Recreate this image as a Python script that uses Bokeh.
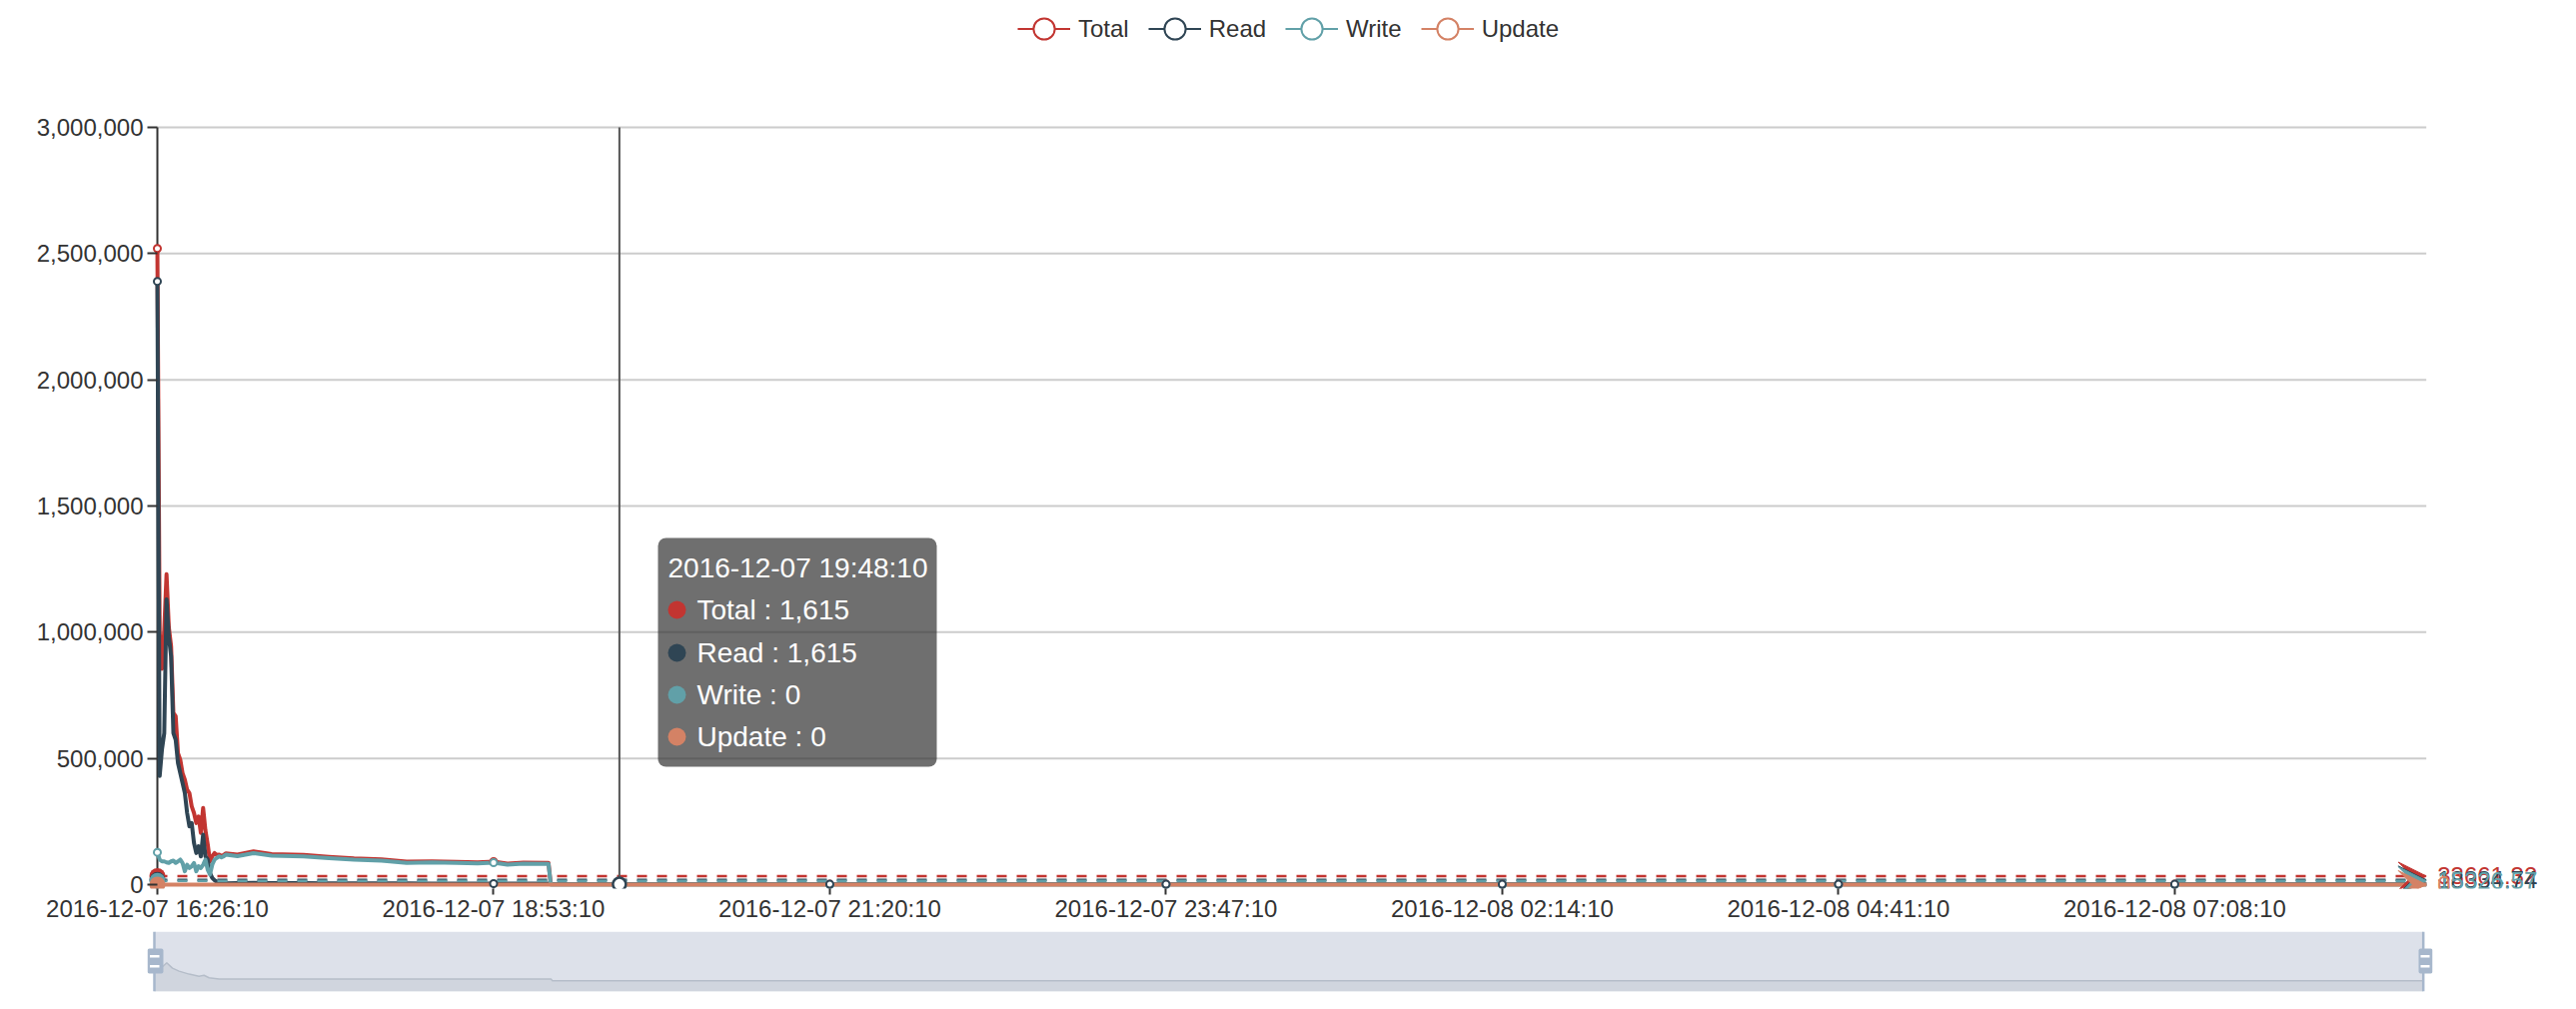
import numpy as np
import pandas as pd
from bokeh.plotting import figure
from bokeh.layouts import column
from bokeh.models import (FixedTicker, DatetimeTickFormatter, NumeralTickFormatter,
                          Legend, LegendItem, Label, Arrow, VeeHead)
from bokeh.core.properties import value
from bokeh.embed import file_html
from bokeh.resources import INLINE

FONT = "Liberation Sans"
START = pd.Timestamp("2016-12-07 16:26:10")

series_names = ["Total", "Read", "Write", "Update"]
series_colors = ["#c23531", "#2f4554", "#61a0a8", "#d48265"]

# minutes after 16:26:10 (one sample per minute, thinned out where flat)
minutes = list(range(31)) + [35, 42, 50, 64, 75, 86, 98, 109, 120, 131, 140, 147, 153,
                             160, 171, 172, 202, 294, 441, 588, 735, 882, 992]

# values in thousands
total_k = [2520, 1000, 855, 1010, 1230, 1020, 944, 680, 667, 521, 495, 442, 416, 376, 363,
           310, 284, 244, 270, 205, 304, 215, 160, 92, 112, 125, 117, 119, 113, 117, 124,
           119, 132, 121, 118, 110, 104, 100, 91, 92, 90, 88, 91, 83, 87, 86, 3,
           1.615, 1.6, 1.5, 1.7, 1.6, 1.5, 1.6]
read_k = [2390, 430, 535, 600, 1130, 983, 904, 600, 574, 482, 442, 403, 363, 284, 231,
          244, 165, 125, 152, 112, 198, 112, 99, 46, 26, 17, 11, 7, 5, 5, 5,
          6, 7, 6, 6, 5, 5, 5, 5, 4, 4, 4, 4, 4, 4, 4, 3,
          1.615, 1.6, 1.5, 1.7, 1.6, 1.5, 1.6]
write_k = [128, 99, 92, 92, 88, 86, 92, 95, 86, 92, 99, 86, 53, 79, 66, 73, 86, 53, 73, 66,
           79, 99, 59, 40, 79, 99, 106, 112, 108, 112, 119,
           113, 125, 115, 112, 105, 99, 95, 86, 88, 86, 84, 87, 79, 83, 82, 0,
           0, 0, 0, 0, 0, 0, 0]
update_k = [0, 0, 0, 0, 0, 0, 0, 0, 0, 0, 0, 0, 0, 0, 0, 0, 0, 0, 0, 0, 0, 0, 0, 0, 0, 0, 0,
            0, 0, 0, 0, 0, 0, 0, 0, 0, 0, 0, 0, 0, 0, 0, 0, 0, 0, 0, 0, 0, 0, 0, 0, 0, 0, 0]

avg_labels = ["33661.32", "18334.74", "15326.57", "0"]

tick_minutes = [0, 147, 294, 441, 588, 735, 882]
hover_minute = 202
last_minute = 992
y_ticks = [0, 500000, 1000000, 1500000, 2000000, 2500000, 3000000]

# data zoom shadow (minutes, fraction of slider height)
shadow_min = [0, 3.8, 5.4, 7.9, 10.8, 15.2, 19.5, 21.7, 23.9, 28.3, 173.4, 174, 992]
shadow_lvl = [0.40, 0.42, 0.48, 0.39, 0.34, 0.29, 0.255, 0.27, 0.23, 0.21, 0.21, 0.18, 0.18]

series_vals = [np.array(v) * 1000 for v in (total_k, read_k, write_k, update_k)]


def ms(ts):
    return ts.value / 1e6


def at_min(m):
    return ms(START + pd.Timedelta(minutes=m))


PX_PER_MIN = 2.289


def px_x(X):
    return at_min((X - 159) / PX_PER_MIN)


def px_y(Y):
    return (885 - Y) / 758 * 3000000


xs = [at_min(m) for m in minutes]
x0, x1 = at_min(0), at_min(last_minute)
y_top = y_ticks[-1]

# frame reaches up to the legend, right to the mark line labels and a little below zero
p = figure(frame_width=2401, frame_height=881, x_axis_type="datetime",
           x_range=(px_x(149), px_x(2550)), y_range=(px_y(889), px_y(8)),
           min_border_left=141, min_border_right=20, min_border_top=8, min_border_bottom=40,
           output_backend="svg", toolbar_location=None)
p.outline_line_color = None
p.grid.grid_line_color = None

p.yaxis.ticker = FixedTicker(ticks=y_ticks)
p.yaxis.formatter = NumeralTickFormatter(format="0,0")
p.yaxis.axis_line_color = None
p.yaxis.major_tick_in = 10
p.yaxis.major_tick_out = 0
p.yaxis.major_label_standoff = 4

p.xaxis.ticker = FixedTicker(ticks=[at_min(m) for m in tick_minutes])
fmt = "%Y-%m-%d %H:%M:%S"
p.xaxis.formatter = DatetimeTickFormatter(seconds=fmt, minsec=fmt, minutes=fmt, hourmin=fmt,
                                          hours=fmt, days=fmt, months=fmt, years=fmt)
p.xaxis.axis_line_color = None
p.xaxis.major_tick_in = 0
p.xaxis.major_tick_out = 6
p.xaxis.major_label_standoff = 0

for ax in (p.xaxis, p.yaxis):
    ax.major_tick_line_color = "#333333"
    ax.major_tick_line_width = 2
    ax.minor_tick_line_color = None
    ax.major_label_text_font = FONT
    ax.major_label_text_font_size = "24px"
    ax.major_label_text_color = "#333333"

# grid lines and axis lines
p.segment(x0=[x0] * len(y_ticks), x1=[x1] * len(y_ticks), y0=y_ticks, y1=y_ticks,
          line_color="#cccccc", line_width=2)
p.segment(x0=[x0, x0], x1=[x1, x0], y0=[0, 0], y1=[0, y_top],
          line_color="#333333", line_width=2)
p.segment(x0=[at_min(m) for m in tick_minutes], x1=[at_min(m) for m in tick_minutes],
          y0=[0] * len(tick_minutes), y1=[px_y(889)] * len(tick_minutes),
          line_color="#333333", line_width=2)

# series lines (Update goes on top of the mark lines)
for vals, c in zip(series_vals[:3], series_colors[:3]):
    p.line(xs, vals, line_color=c, line_width=4, line_join="round")

# average mark lines
for lab, c in zip(avg_labels, series_colors):
    avg = float(lab)
    p.line([x0, x1], [avg, avg], line_color=c, line_width=2.5, line_dash="10 10")

p.line(xs, series_vals[3], line_color=series_colors[3], line_width=4, line_join="round")

for lab, c in zip(avg_labels, series_colors):
    avg = float(lab)
    p.scatter([x0], [avg], size=16, fill_color=c, line_color=None)
    p.add_layout(Arrow(end=VeeHead(size=28, fill_color=c, line_color=c),
                       x_start=at_min(last_minute - 10), y_start=avg,
                       x_end=x1, y_end=avg, line_alpha=0))
    p.add_layout(Label(x=x1, y=avg, x_offset=11, text=lab,
                       text_baseline="middle", text_font=FONT, text_font_size="24px",
                       text_color=c))

# symbols shown at label interval (Read drawn last so its rings show along zero)
mark_idx = [minutes.index(m) for m in tick_minutes]
for k in (0, 2, 1):
    p.scatter([xs[i] for i in mark_idx], [series_vals[k][i] for i in mark_idx], size=7,
              fill_color="white", line_color=series_colors[k], line_width=2)

hi = minutes.index(hover_minute)
p.segment(x0=[xs[hi]], x1=[xs[hi]], y0=[0], y1=[y_top], line_color="#555555", line_width=2)
p.scatter([xs[hi]], [series_vals[1][hi]], size=13, fill_color="white",
          line_color=series_colors[1], line_width=2.5)

# tooltip
p.quad(left=[px_x(660)], right=[px_x(939)], top=[px_y(538)], bottom=[px_y(767)],
       fill_color="#323232", fill_alpha=0.7, line_color=None, border_radius=8)
row_y = [px_y(610), px_y(653), px_y(695), px_y(737)]
p.scatter([px_x(679)] * 4, row_y, size=18, fill_color=series_colors, line_color=None)
tip_title = (START + pd.Timedelta(minutes=hover_minute)).strftime("%Y-%m-%d %H:%M:%S")
tip_rows = [f"{n} : {int(round(v[hi])):,}" for n, v in zip(series_names, series_vals)]
p.text([px_x(670)] + [px_x(699)] * 4, [px_y(568)] + row_y, text=[tip_title] + tip_rows,
       text_color="white", text_font=value(FONT), text_font_size="28px",
       text_baseline="middle", text_align="left")

# legend (its renderers hold one point far below the visible range)
items = []
for n, c in zip(series_names, series_colors):
    lr = p.line([x0, x1], [-1e7, -1e7], line_color=c, line_width=2)
    sr = p.scatter([x0], [-1e7], size=22, fill_color="white", line_color=c, line_width=2)
    items.append(LegendItem(label=n, renderers=[lr, sr]))
legend = Legend(items=items, orientation="horizontal", location=(871, 834),
                glyph_width=53, glyph_height=53, label_standoff=8, spacing=19,
                padding=0, margin=0, border_line_color=None, background_fill_alpha=0,
                label_text_font=FONT, label_text_font_size="24px",
                label_text_color="#333333")
p.add_layout(legend)

# data zoom slider


def sx(X):
    return (X - 162) / PX_PER_MIN


def sy(Y):
    return (992 - Y) / 60


s = figure(frame_width=2287, frame_height=60, x_range=(sx(155), sx(2442)), y_range=(0, 1),
           min_border_left=147, min_border_right=128, min_border_top=3, min_border_bottom=2,
           x_axis_location=None, y_axis_location=None,
           output_backend="svg", toolbar_location=None)
s.outline_line_color = None
s.grid.grid_line_color = None
s.quad(left=[0], right=[last_minute], bottom=[0], top=[1], fill_color="#dde1ea", line_color=None)
s.varea(x=shadow_min, y1=[0] * len(shadow_min), y2=shadow_lvl, fill_color="#d0d5de")
s.line(shadow_min, shadow_lvl, line_color="#b5bdc9", line_width=1.5)
s.segment(x0=[0, last_minute], x1=[0, last_minute], y0=[0, 0], y1=[1, 1],
          line_color="#a7b7cc", line_width=2.5)
s.quad(left=[sx(155), sx(2428)], right=[sx(171), sx(2442)], bottom=[sy(974)] * 2,
       top=[sy(949)] * 2, fill_color="#a7b7cc", line_color=None, border_radius=2)
s.quad(left=[sx(157.5), sx(157.5), sx(2430), sx(2430)],
       right=[sx(167), sx(167), sx(2439), sx(2439)],
       bottom=[sy(958), sy(968)] * 2, top=[sy(955.5), sy(965.5)] * 2,
       fill_color="white", line_color=None)

open("out.html", "w").write(file_html(column(p, s), INLINE))
